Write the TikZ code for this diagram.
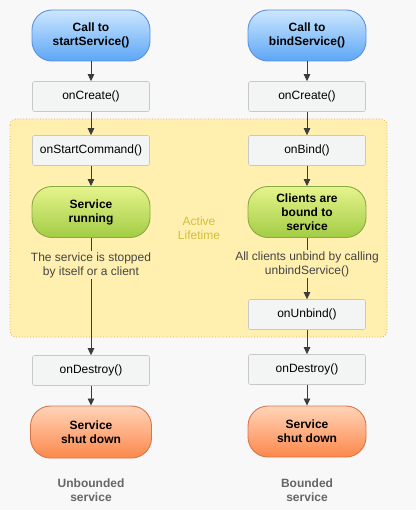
\documentclass[tikz,border=0pt]{standalone}
\usepackage{fontspec}
\setmainfont{Liberation Sans}
\usetikzlibrary{arrows.meta}
\definecolor{bgc}{HTML}{F8F8F8}
\definecolor{yel}{HTML}{FFF0B0}
\definecolor{yelb}{HTML}{EDA65A}
\definecolor{actc}{HTML}{D2BE3C}
\definecolor{boxf}{HTML}{F3F4F4}
\definecolor{boxb}{HTML}{C8C8C8}
\definecolor{arr}{HTML}{3C3C3C}
\definecolor{txtg}{HTML}{444444}
\definecolor{labg}{HTML}{666666}
\definecolor{bluet}{HTML}{CDE7FE}
\definecolor{blueb}{HTML}{5CA6F6}
\definecolor{blued}{HTML}{5D8EE0}
\definecolor{greent}{HTML}{E6F48C}
\definecolor{greenb}{HTML}{A2CC44}
\definecolor{greend}{HTML}{8AAA44}
\definecolor{oranget}{HTML}{FFD4B8}
\definecolor{orangeb}{HTML}{FC884C}
\definecolor{oranged}{HTML}{D6764A}
\tikzset{
  pill/.style={rounded corners=20pt, minimum width=118pt, minimum height=51pt,
    align=center, font=\fontsize{12}{14}\selectfont\bfseries, inner sep=0pt, line width=0.9pt},
  bluepill/.style={pill, draw=blued, top color=bluet, bottom color=blueb},
  greenpill/.style={pill, draw=greend, top color=greent, bottom color=greenb},
  orangepill/.style={pill, draw=oranged, top color=oranget, bottom color=orangeb},
  callbox/.style={rounded corners=2pt, draw=boxb, fill=boxf, minimum width=117pt,
    minimum height=30pt, inner sep=0pt, font=\fontsize{12}{14}\selectfont, line width=0.6pt},
  note/.style={align=center, text=txtg, font=\fontsize{12}{14}\selectfont, inner sep=1pt},
  kind/.style={align=center, text=labg, font=\fontsize{12}{14}\selectfont\bfseries},
  flow/.style={draw=arr, line width=0.8pt, -{Triangle[width=6.5pt,length=7pt]}},
  link/.style={draw=arr, line width=0.8pt}
}
\begin{document}
\begin{tikzpicture}[x=1pt,y=-1pt]
\fill[bgc] (0,0) rectangle (416,510);
\useasboundingbox (0,0) rectangle (416,510);
% active lifetime area
\draw[yelb, fill=yel, dotted, line width=0.8pt, rounded corners=6pt] (10,119) rectangle (387,337);
\node[text=actc, align=center, font=\fontsize{12}{14}\selectfont] (active) at (199,228) {Active\\Lifetime};

% left column
\node[bluepill] (startL) at (91,35.5) {Call to\\startService()};
\node[callbox] (createL) at (91,96.5) {onCreate()};
\node[callbox] (cmd) at (91,150.5) {onStartCommand()};
\node[greenpill] (running) at (91,212) {Service\\running};
\node[note] (stopped) at (91,265) {The service is stopped\\by itself or a client};
\node[callbox] (destroyL) at (91,370.5) {onDestroy()};
\node[orangepill, minimum width=121pt, minimum height=52pt] (shutL) at (91,432) {Service\\shut down};
\node[kind] (unb) at (91,490) {Unbounded\\service};

% right column
\node[bluepill] (startR) at (307,35.5) {Call to\\bindService()};
\node[callbox] (createR) at (307,96.5) {onCreate()};
\node[callbox] (bind) at (307,150.5) {onBind()};
\node[greenpill] (bound) at (307,212) {Clients are\\bound to\\service};
\node[note] (unbindtxt) at (307,264) {All clients unbind by calling\\unbindService()};
\node[callbox] (unbind) at (307,314.5) {onUnbind()};
\node[callbox] (destroyR) at (307,369.5) {onDestroy()};
\node[orangepill] (shutR) at (307,431.5) {Service\\shut down};
\node[kind] (bnd) at (307,490) {Bounded\\service};

% connectors
\draw[flow] (startL) -- (createL);
\draw[flow] (createL) -- (cmd);
\draw[flow] (cmd) -- (running);
\draw[link] (running) -- (stopped);
\draw[flow] (stopped) -- (destroyL);
\draw[flow] (destroyL) -- (shutL);

\draw[flow] (startR) -- (createR);
\draw[flow] (createR) -- (bind);
\draw[flow] (bind) -- (bound);
\draw[link] (bound) -- (unbindtxt);
\draw[flow] (unbindtxt) -- (unbind);
\draw[flow] (unbind) -- (destroyR);
\draw[flow] (destroyR) -- (shutR);
\end{tikzpicture}
\end{document}
